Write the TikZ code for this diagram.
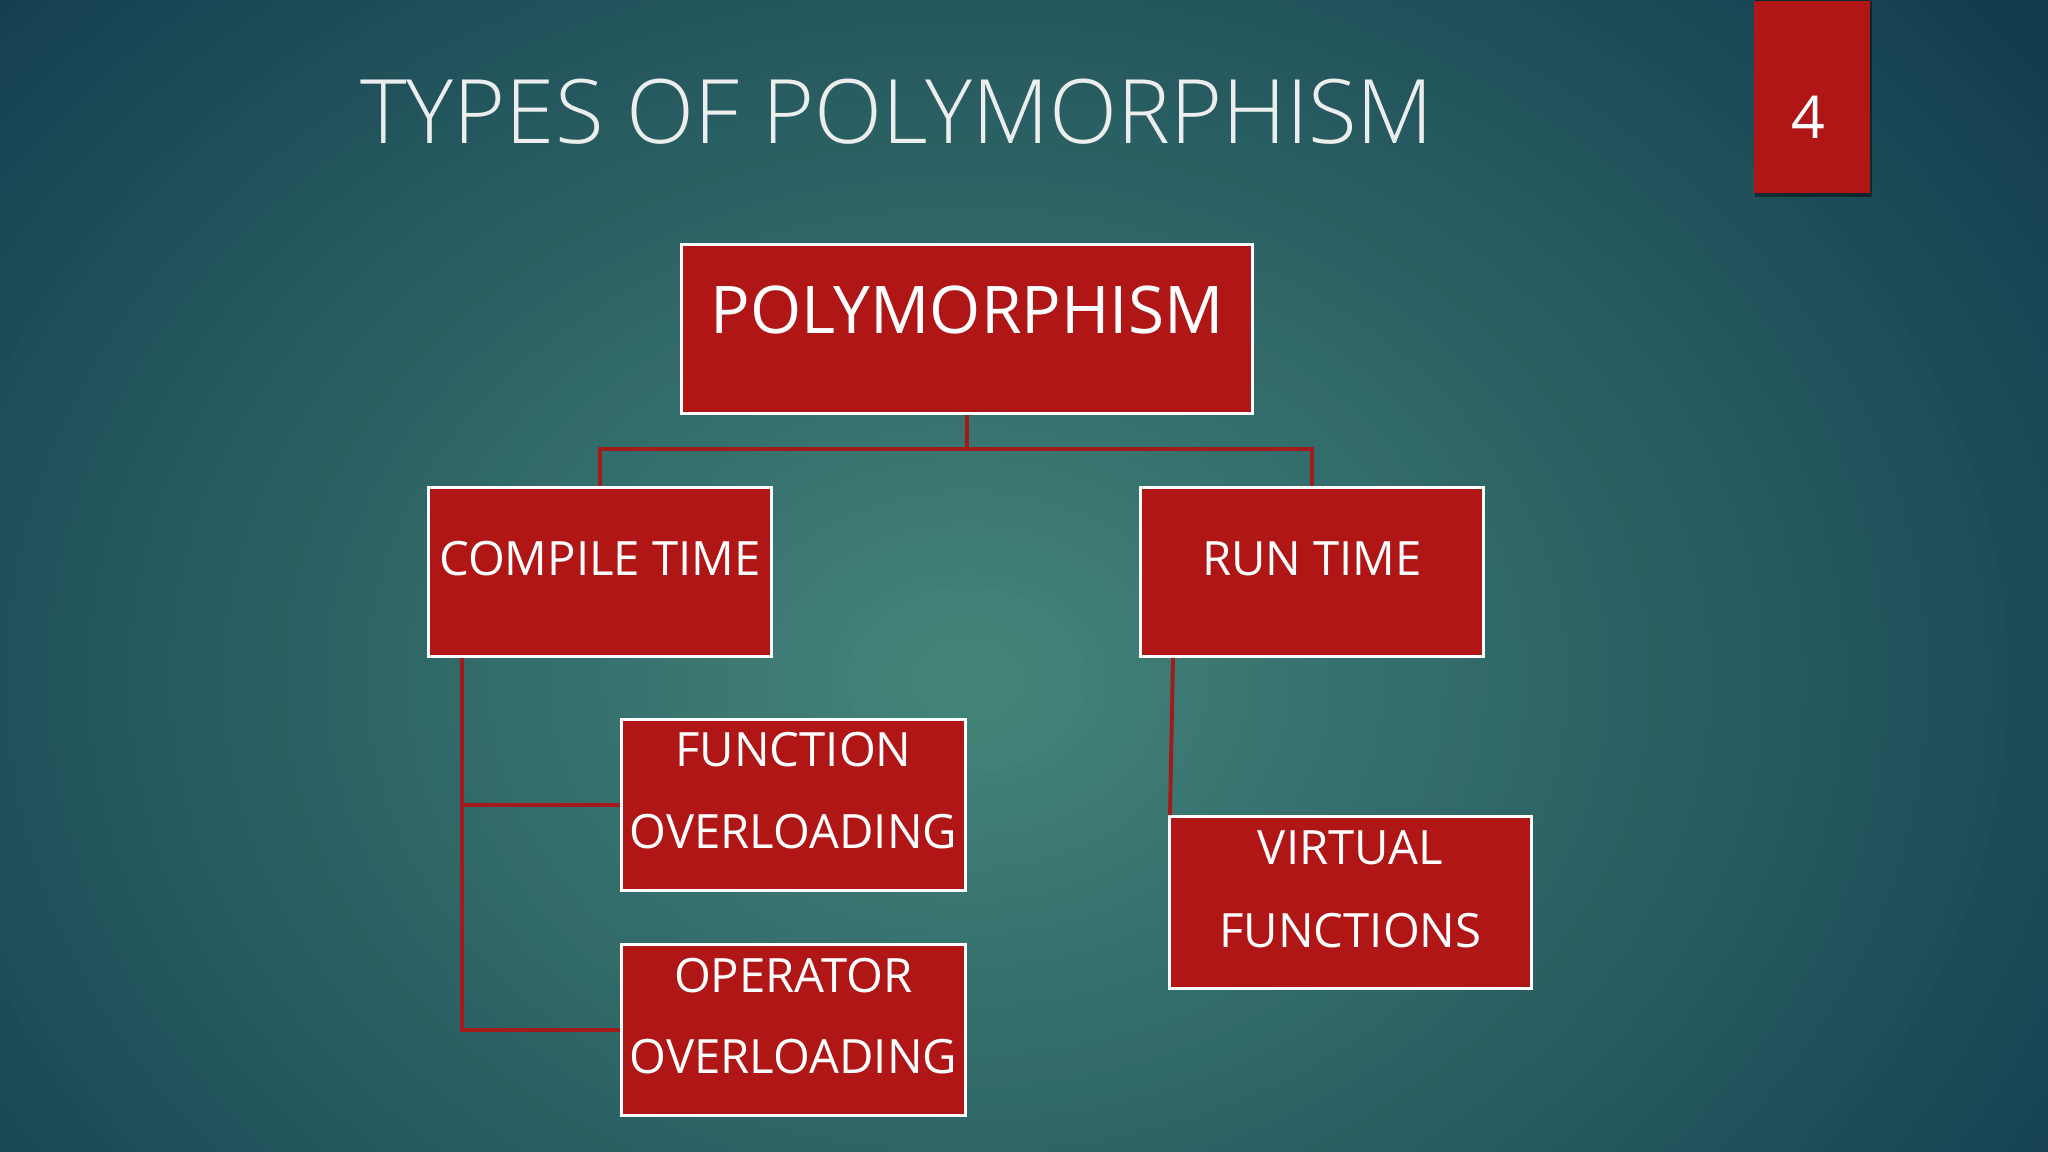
\documentclass[tikz,border=0pt]{standalone}
\usepackage{fontspec}
\setmainfont{Open Sans}
\newfontfamily\titlefont{Open Sans Light}
\usetikzlibrary{calc}
\definecolor{bgin}{HTML}{44867A}
\definecolor{bgout}{HTML}{113A4D}
\definecolor{boxred}{HTML}{B11616}
\definecolor{linered}{HTML}{A31A1A}
\definecolor{titlegray}{HTML}{ECEEEE}
\begin{document}
\begin{tikzpicture}[x=0.01cm, y=-0.01cm,
  box/.style={draw=white, line width=0.8pt, fill=boxred, inner sep=0pt},
  lbl/.style={text=white, inner sep=0pt, anchor=base, font=\fontsize{13.45}{16}\selectfont},
  conn/.style={draw=linered, line width=1.1pt}]
\useasboundingbox (0,0) rectangle (2048,1152);
\fill[bgout] (0,0) rectangle (2048,1152);
\begin{scope}
\clip (0,0) rectangle (2048,1152);
\foreach \i in {1,...,70}{
  \pgfmathsetmacro\pct{100*\i/70}
  \pgfmathsetmacro\rx{14*(1-\i/70)}
  \pgfmathsetmacro\ry{11*(1-\i/70)}
  \fill[bgin!\pct!bgout] (967,680) ellipse [x radius=\rx cm, y radius=\ry cm];
}
\end{scope}

% title
\node[text=titlegray, inner sep=0pt, anchor=base, font=\titlefont\fontsize{25.3}{30}\selectfont] (title) at (897,144) {TYPES OF POLYMORPHISM};

% page number tab
\fill[black, opacity=0.45] (1755,0) rectangle (1872,197);
\node[fill=boxred, minimum width=1.16cm, minimum height=1.92cm, inner sep=0pt, anchor=north west] (page) at (1753,0) {};
\node[text=white, inner sep=0pt, anchor=base, font=\fontsize{16.8}{20}\selectfont] (pagenum) at (1808,139) {4};

% boxes
\node[box, minimum width=5.71cm, minimum height=1.69cm] (poly) at (967,329) {};
\node[box, minimum width=3.43cm, minimum height=1.69cm] (compile) at (600,572) {};
\node[box, minimum width=3.43cm, minimum height=1.69cm] (run) at (1312,572) {};
\node[box, minimum width=3.44cm, minimum height=1.71cm] (func) at (793.5,805) {};
\node[box, minimum width=3.44cm, minimum height=1.71cm] (oper) at (793.5,1030) {};
\node[box, minimum width=3.62cm, minimum height=1.72cm] (virt) at (1350.5,902.5) {};

% labels
\node[lbl, font=\fontsize{18.7}{22}\selectfont] (polyT) at (967,334) {POLYMORPHISM};
\node[lbl] (compileT) at (600,575) {COMPILE TIME};
\node[lbl] (runT) at (1312,575) {RUN TIME};
\node[lbl] (funcT1) at (793.5,766) {FUNCTION};
\node[lbl] (funcT2) at (793.5,848) {OVERLOADING};
\node[lbl] (operT1) at (793.5,992) {OPERATOR};
\node[lbl] (operT2) at (793.5,1073) {OVERLOADING};
\node[lbl] (virtT1) at (1350.5,864) {VIRTUAL};
\node[lbl] (virtT2) at (1350.5,947) {FUNCTIONS};

% connectors
\coordinate (j) at (967,449);
\draw[conn] (poly.south) -- (j);
\draw[conn] (compile.north) |- (j) -| (run.north);
\coordinate (cl) at ($(compile.south west)+(35,0)$);
\draw[conn] (cl) |- (func.west);
\draw[conn] (cl) |- (oper.west);
\coordinate (rl) at ($(run.south west)+(34,0)$);
\coordinate (vl) at ($(virt.north west)+(2,0)$);
\draw[conn] (rl) -- (vl);
\end{tikzpicture}
\end{document}
